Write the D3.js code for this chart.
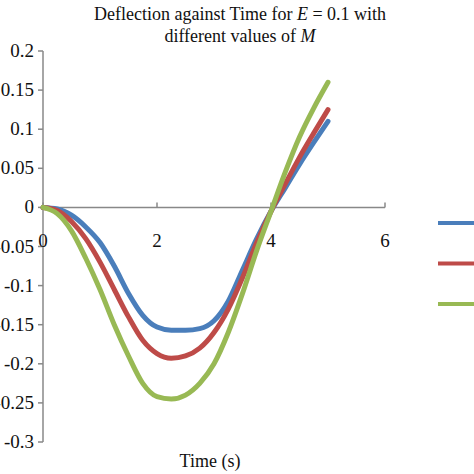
<html>
<head>
<meta charset="UTF-8">
<script src="https://d3js.org/d3.v7.min.js"></script>
<style>
body { margin: 0; background: #fff; }
svg text { font-family: "Liberation Serif", "DejaVu Serif", serif; fill: #111; }
</style>
</head>
<body>
<svg id="chart" width="474" height="474"></svg>
<script>
var times = [0, 0.25, 0.5, 0.75, 1, 1.25, 1.5, 1.75, 2, 2.25, 2.5, 2.75, 3, 3.25, 3.5, 3.75, 4, 4.25, 4.5, 4.75, 5];
var blue  = [0, -0.002, -0.01, -0.025, -0.045, -0.075, -0.11, -0.138, -0.153, -0.157, -0.157, -0.155, -0.145, -0.12, -0.08, -0.04, -0.005, 0.025, 0.055, 0.083, 0.11];
var red   = [0, -0.004, -0.018, -0.04, -0.07, -0.105, -0.14, -0.17, -0.187, -0.193, -0.19, -0.18, -0.16, -0.13, -0.09, -0.045, -0.005, 0.03, 0.064, 0.095, 0.125];
var green = [0, -0.008, -0.03, -0.065, -0.105, -0.15, -0.19, -0.225, -0.242, -0.245, -0.24, -0.225, -0.2, -0.16, -0.11, -0.055, -0.005, 0.045, 0.09, 0.127, 0.16];
var xTicks = [0, 2, 4, 6];
var yTicks = [0.2, 0.15, 0.1, 0.05, 0, -0.05, -0.1, -0.15, -0.2, -0.25, -0.3];
var series = [
  {values: blue, color: "#4a7ebb"},
  {values: red, color: "#be4b48"},
  {values: green, color: "#98b954"}
];

var svg = d3.select("#chart");
var x = d3.scaleLinear().domain([0, 6]).range([43, 385]);
var y = d3.scaleLinear().domain([-0.3, 0.2]).range([442, 51]);
var serif = "Liberation Serif, DejaVu Serif, serif";

// y axis
svg.append("line").attr("x1", x(0)).attr("x2", x(0)).attr("y1", y(0.2)).attr("y2", y(-0.3))
  .attr("stroke", "#888").attr("stroke-width", 1.5);
yTicks.forEach(function(t) {
  svg.append("line").attr("x1", x(0) - 5).attr("x2", x(0)).attr("y1", y(t)).attr("y2", y(t))
    .attr("stroke", "#888").attr("stroke-width", 1.5);
  svg.append("text").attr("x", x(0) - 9).attr("y", y(t) + 6).attr("text-anchor", "end")
    .attr("font-family", serif).attr("font-size", 19).text(t);
});

// x axis on zero
svg.append("line").attr("x1", x(0)).attr("x2", x(6)).attr("y1", y(0)).attr("y2", y(0))
  .attr("stroke", "#888").attr("stroke-width", 1.5);
xTicks.forEach(function(t) {
  svg.append("line").attr("x1", x(t)).attr("x2", x(t)).attr("y1", y(0) - 5).attr("y2", y(0))
    .attr("stroke", "#888").attr("stroke-width", 1.5);
  svg.append("text").attr("x", x(t)).attr("y", y(0) + 40).attr("text-anchor", "middle")
    .attr("font-family", serif).attr("font-size", 19).text(t);
});

var line = d3.line().x(function(d, i) { return x(times[i]); }).y(function(d) { return y(d); })
  .curve(d3.curveMonotoneX);
series.forEach(function(s, i) {
  svg.append("path").attr("d", line(s.values)).attr("fill", "none")
    .attr("stroke", s.color).attr("stroke-width", 5).attr("stroke-linecap", "round");
  var ly = 223 + i * 40.5;
  svg.append("line").attr("x1", 438).attr("x2", 480).attr("y1", ly).attr("y2", ly)
    .attr("stroke", s.color).attr("stroke-width", 4);
});

// title
var t1 = svg.append("text").attr("x", 240).attr("y", 20).attr("text-anchor", "middle")
  .attr("font-family", serif).attr("font-size", 18);
t1.append("tspan").text("Deflection against Time for ");
t1.append("tspan").attr("font-style", "italic").text("E");
t1.append("tspan").text(" = 0.1 with");
var t2 = svg.append("text").attr("x", 240).attr("y", 42).attr("text-anchor", "middle")
  .attr("font-family", serif).attr("font-size", 18);
t2.append("tspan").text("different values of ");
t2.append("tspan").attr("font-style", "italic").text("M");

svg.append("text").attr("x", 210).attr("y", 467).attr("text-anchor", "middle")
  .attr("font-family", serif).attr("font-size", 18).text("Time (s)");
</script>
</body>
</html>
